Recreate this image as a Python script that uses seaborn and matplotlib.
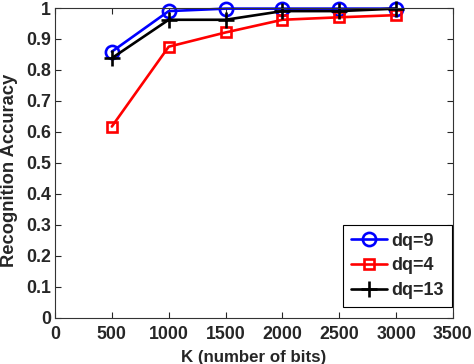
import seaborn as sns
import matplotlib.pyplot as plt
import pandas as pd

# values
k_bits = [500, 1000, 1500, 2000, 2500, 3000]
acc_dq9 = [0.859, 0.99, 0.998, 0.998, 0.998, 0.998]
acc_dq4 = [0.617, 0.875, 0.921, 0.962, 0.970, 0.977]
acc_dq13 = [0.838, 0.962, 0.962, 0.99, 0.99, 0.998]
labels = ['dq=9', 'dq=4', 'dq=13']

sns.set_style('ticks')
plt.rcParams['font.family'] = ['Liberation Sans', 'DejaVu Sans']
plt.rcParams['font.weight'] = 'bold'

df = pd.concat([
    pd.DataFrame({'K': k_bits, 'acc': acc_dq9, 'dq': labels[0]}),
    pd.DataFrame({'K': k_bits, 'acc': acc_dq4, 'dq': labels[1]}),
    pd.DataFrame({'K': k_bits, 'acc': acc_dq13, 'dq': labels[2]}),
])

fig = plt.figure(figsize=(4.74, 3.64), dpi=100)
ax = fig.add_axes([0.116, 0.1277, 0.8397, 0.8503])
custom_palette = ['blue', 'red', 'black']
sns.lineplot(data=df, x='K', y='acc', hue='dq', palette=custom_palette,
             linewidth=1.9, legend=False, ax=ax)

# matlab style markers: open circle, open square, plus
marker_styles = [('o', 9.5), ('s', 7.5), ('+', 11)]
for line, (m, ms), c in zip(ax.lines, marker_styles, custom_palette):
    line.set_marker(m)
    line.set_markersize(ms)
    line.set_markerfacecolor('none')
    line.set_markeredgecolor(c)
    line.set_markeredgewidth(1.9)
    line.set_clip_on(False)

ax.set_xlim(0, 3500)
ax.set_ylim(0, 1)
ax.set_xticks(range(0, 3501, 500))
ax.set_yticks([i / 10 for i in range(11)])
ax.set_yticklabels(['0'] + [f'{i / 10:g}' for i in range(1, 10)] + ['1'])
ax.tick_params(direction='in', top=True, right=True, labelsize=12.8, length=4)
ax.tick_params(axis='x', pad=6)
ax.tick_params(axis='y', pad=3)
for s in ax.spines.values():
    s.set_linewidth(0.8)
    s.set_color('#333333')
ax.set_xlabel('K (number of bits)', fontsize=12.2, fontweight='bold', labelpad=5)
ax.set_ylabel('Recognition Accuracy', fontsize=13.2, fontweight='bold')
ax.yaxis.set_label_coords(-0.092, 0.477)

leg = ax.legend(ax.lines[:3], labels, loc='lower right', fontsize=13, frameon=True, fancybox=False,
                edgecolor='black', framealpha=1, handlelength=2.0, borderpad=0.45,
                labelspacing=0.42, handletextpad=0.25, borderaxespad=0,
                bbox_to_anchor=(452 / 474, 57 / 364), bbox_transform=fig.transFigure)
leg.get_frame().set_linewidth(0.8)

plt.savefig('out.png', dpi=100)
